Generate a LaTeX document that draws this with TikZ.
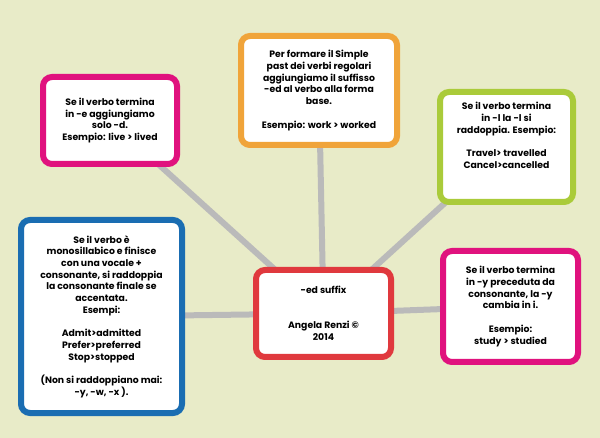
\documentclass[tikz,border=0pt]{standalone}
\usepackage{fontspec}
\setmainfont{Poppins}
\definecolor{bgc}{HTML}{E8EBC8}
\definecolor{linec}{HTML}{BABABA}
\definecolor{magc}{HTML}{E0127E}
\definecolor{orac}{HTML}{F0A43A}
\definecolor{grnc}{HTML}{AACB3A}
\definecolor{bluc}{HTML}{1A6DB2}
\definecolor{redc}{HTML}{E0393E}
\pgfdeclarelayer{bg}
\pgfdeclarelayer{lines}
\pgfsetlayers{bg,lines,main}
\tikzset{
  box/.style={draw, line width=6pt, rounded corners=9pt, fill=white, align=center,
    inner sep=0pt, font=\fontsize{9.3}{11.7}\selectfont\bfseries},
  conn/.style={draw=linec, line width=6pt}
}
\begin{document}
\begin{tikzpicture}[x=1pt,y=-1pt]
\begin{pgfonlayer}{bg}
\fill[bgc] (0,0) rectangle (600,438);
\end{pgfonlayer}
\useasboundingbox (0,0) rectangle (600,438);
\node[box, draw=magc, minimum width=134pt, minimum height=87pt] (A) at (110,120.5)
  {Se il verbo termina\\in -e aggiungiamo\\solo -d.\\Esempio: live > lived};
\node[box, draw=orac, minimum width=156pt, minimum height=109pt] (B) at (319,90.5)
  {Per formare il Simple\\past dei verbi regolari\\aggiungiamo il suffisso\\-ed al verbo alla forma\\base.\\[11.7pt]Esempio: work > worked};
\node[box, draw=grnc, minimum width=133pt, minimum height=110pt] (C) at (506.5,147)
  {Se il verbo termina\\in -l la -l si\\raddoppia. Esempio:\\[11.7pt]Travel> travelled\\Cancel>cancelled\\[11.7pt]\mbox{}};
\node[box, draw=bluc, minimum width=161pt, minimum height=193pt] (D) at (101.5,316.5)
  {Se il verbo è\\monosillabico e finisce\\con una vocale +\\consonante, si raddoppia\\la consonante finale se\\accentata.\\Esempi:\\[11.7pt]Admit>admitted\\Prefer>preferred\\Stop>stopped\\[11.7pt](Non si raddoppiano mai:\\-y, -w, -x ).};
\node[box, draw=redc, minimum width=135pt, minimum height=87pt] (E) at (323.5,313.5)
  {-ed suffix\\[23.4pt]Angela Renzi ©\\2014};
\node[box, draw=magc, minimum width=135pt, minimum height=111pt] (F) at (510.5,306.5)
  {Se il verbo termina\\in -y preceduta da\\consonante, la -y\\cambia in i.\\[11.7pt]Esempio:\\study > studied};
\begin{pgfonlayer}{lines}
\foreach \t in {A,B,C,D,F} \draw[conn] (E.center) -- (\t.center);
\end{pgfonlayer}
\end{tikzpicture}
\end{document}
